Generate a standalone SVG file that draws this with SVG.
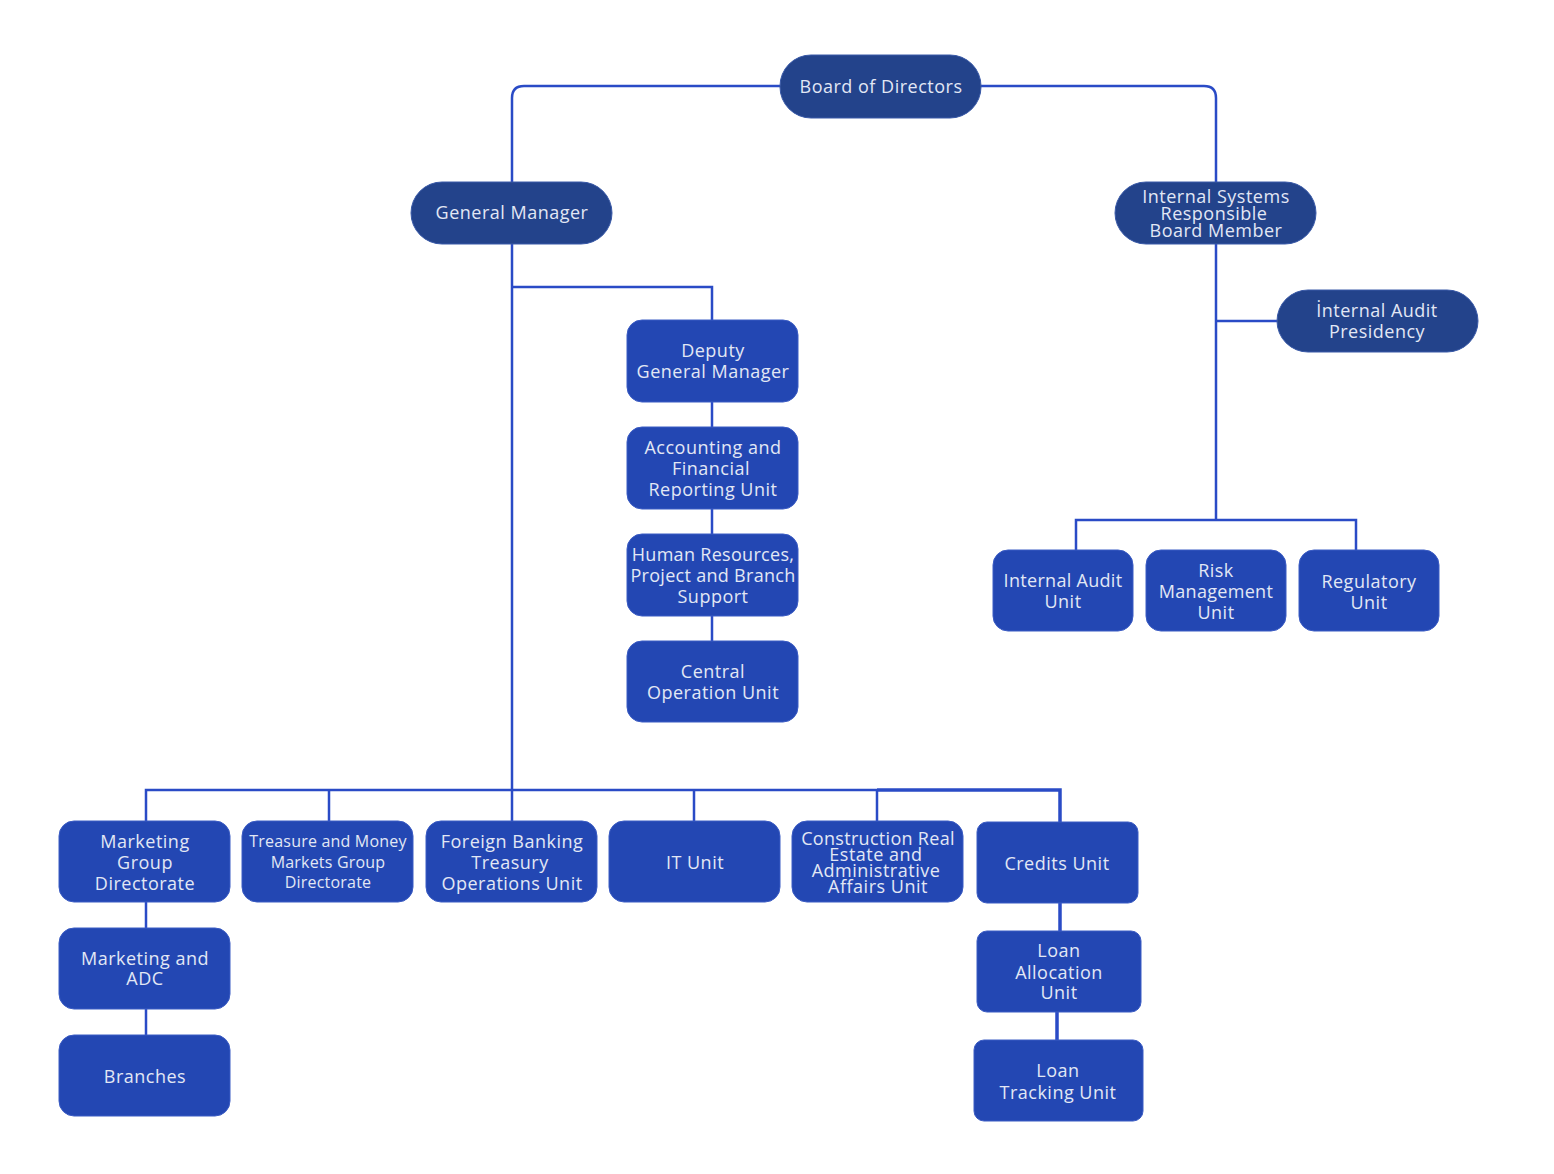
<svg xmlns="http://www.w3.org/2000/svg" width="1554" height="1174" viewBox="0 0 1554 1174">
<style>
.pill{fill:#23438B;stroke:#3a5aa8;stroke-width:1}
.box{fill:#2347B3;stroke:#3b5cc4;stroke-width:1}
text{font-family:"Open Sans","Liberation Sans",sans-serif;font-size:18px;letter-spacing:0.5px;fill:#E2E7F5;text-anchor:middle}
.sm{font-size:16px;letter-spacing:0.2px}
.cs{letter-spacing:0.3px}
.ln{fill:none;stroke:#2A4BC6;stroke-width:2.5}
.thk{fill:none;stroke:#2A4BC6;stroke-width:3.5}
</style>
<rect width="1554" height="1174" fill="#ffffff"/>
<g id="connectors">
<path class="ln" d="M780,86 H524 Q512,86 512,98 V790"/>
<path class="ln" d="M981,86 H1204 Q1216,86 1216,98 V520"/>
<path class="ln" d="M1216,321 H1277"/>
<path class="ln" d="M1076,550 V520 H1356 V550"/>
<path class="ln" d="M512,287 H712 V320"/>
<path class="ln" d="M712,402 V427 M712,509 V534 M712,616 V641"/>
<path class="ln" d="M146,821 V790 H877 M329,790 V821 M512,790 V821 M694,790 V821 M877,790 V821"/>
<path class="thk" d="M877,790 H1060 V822"/>
<path class="ln" d="M146,902 V928 M146,1009 V1035"/>
<path class="thk" d="M1060,903 V931 M1057,1012 V1040"/>
</g>
<g id="board"><rect class="pill" x="780" y="55" width="201" height="63" rx="31"/><text x="881" y="93">Board of Directors</text></g>
<g id="gm"><rect class="pill" x="411" y="182" width="201" height="62" rx="31"/><text x="512" y="219">General Manager</text></g>
<g id="isrbm"><rect class="pill" x="1115" y="182" width="201" height="62" rx="31"/><text x="1216" y="203">Internal Systems</text><text x="1214" y="220">Responsible</text><text x="1216" y="237">Board Member</text></g>
<g id="iap"><rect class="pill" x="1277" y="290" width="201" height="62" rx="31"/><text x="1377" y="317">İnternal Audit</text><text x="1377" y="338">Presidency</text></g>
<g id="dgm"><rect class="box" x="627" y="320" width="171" height="82" rx="15"/><text x="713" y="357">Deputy</text><text x="713" y="378">General Manager</text></g>
<g id="acc"><rect class="box" x="627" y="427" width="171" height="82" rx="15"/><text x="713" y="454">Accounting and</text><text x="711" y="475">Financial</text><text x="713" y="496">Reporting Unit</text></g>
<g id="hr"><rect class="box" x="627" y="534" width="171" height="82" rx="15"/><text class="cs" x="713" y="561">Human Resources,</text><text class="cs" x="713" y="582">Project and Branch</text><text x="713" y="603">Support</text></g>
<g id="cou"><rect class="box" x="627" y="641" width="171" height="81" rx="15"/><text x="713" y="678">Central</text><text x="713" y="699">Operation Unit</text></g>
<g id="iau"><rect class="box" x="993" y="550" width="140" height="81" rx="15"/><text class="cs" x="1063" y="587">Internal Audit</text><text x="1063" y="608">Unit</text></g>
<g id="rmu"><rect class="box" x="1146" y="550" width="140" height="81" rx="15"/><text x="1216" y="577">Risk</text><text class="cs" x="1216" y="598">Management</text><text x="1216" y="619">Unit</text></g>
<g id="ru"><rect class="box" x="1299" y="550" width="140" height="81" rx="15"/><text x="1369" y="588">Regulatory</text><text x="1369" y="609">Unit</text></g>
<g id="mgd"><rect class="box" x="59" y="821" width="171" height="81" rx="15"/><text x="145" y="848">Marketing</text><text x="145" y="869">Group</text><text x="145" y="890">Directorate</text></g>
<g id="tmm"><rect class="box" x="242" y="821" width="171" height="81" rx="15"/><text class="sm" x="328" y="847">Treasure and Money</text><text class="sm" x="328" y="868">Markets Group</text><text class="sm" x="328" y="888">Directorate</text></g>
<g id="fbt"><rect class="box" x="426" y="821" width="171" height="81" rx="15"/><text x="512" y="848">Foreign Banking</text><text x="510" y="869">Treasury</text><text x="512" y="890">Operations Unit</text></g>
<g id="it"><rect class="box" x="609" y="821" width="171" height="81" rx="15"/><text x="695" y="869">IT Unit</text></g>
<g id="cre"><rect class="box" x="792" y="821" width="171" height="81" rx="15"/><text class="cs" x="878" y="845">Construction Real</text><text x="876" y="861">Estate and</text><text x="876" y="877">Administrative</text><text x="878" y="893">Affairs Unit</text></g>
<g id="cu"><rect class="box" x="977" y="822" width="161" height="81" rx="10"/><text x="1057" y="870">Credits Unit</text></g>
<g id="mad"><rect class="box" x="59" y="928" width="171" height="81" rx="15"/><text x="145" y="965">Marketing and</text><text x="145" y="985">ADC</text></g>
<g id="br"><rect class="box" x="59" y="1035" width="171" height="81" rx="15"/><text x="145" y="1083">Branches</text></g>
<g id="lau"><rect class="box" x="977" y="931" width="164" height="81" rx="10"/><text x="1059" y="957">Loan</text><text x="1059" y="979">Allocation</text><text x="1059" y="999">Unit</text></g>
<g id="ltu"><rect class="box" x="974" y="1040" width="169" height="81" rx="10"/><text x="1058" y="1077">Loan</text><text x="1058" y="1099">Tracking Unit</text></g>
</svg>
